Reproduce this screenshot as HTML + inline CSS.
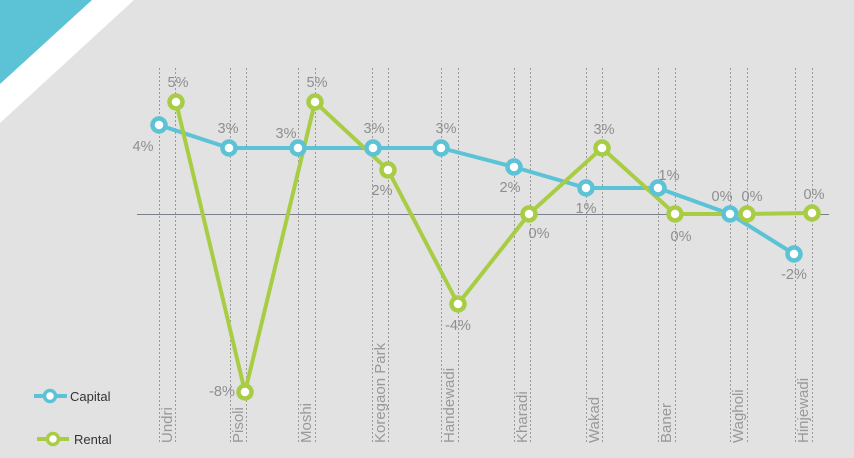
<!DOCTYPE html>
<html><head><style>
html,body{margin:0;padding:0;background:#e1e2e1;}
svg{display:block;font-family:"Liberation Sans",sans-serif;}
</style></head><body>
<svg width="854" height="458" viewBox="0 0 854 458">
<rect width="854" height="458" fill="#e1e2e1"/>
<polygon points="0,0 134,0 0,123" fill="#ffffff"/>
<polygon points="0,0 92,0 0,84" fill="#5bc3d5"/>
<g stroke="#9a9a9a" stroke-width="1" stroke-dasharray="2,2">
<line x1="159.5" y1="68" x2="159.5" y2="443"/><line x1="175.5" y1="68" x2="175.5" y2="443"/>
<line x1="230.5" y1="68" x2="230.5" y2="443"/><line x1="246.5" y1="68" x2="246.5" y2="443"/>
<line x1="298.5" y1="68" x2="298.5" y2="443"/><line x1="315.5" y1="68" x2="315.5" y2="443"/>
<line x1="372.5" y1="68" x2="372.5" y2="443"/><line x1="388.5" y1="68" x2="388.5" y2="443"/>
<line x1="441.5" y1="68" x2="441.5" y2="443"/><line x1="458.5" y1="68" x2="458.5" y2="443"/>
<line x1="514.5" y1="68" x2="514.5" y2="443"/><line x1="530.5" y1="68" x2="530.5" y2="443"/>
<line x1="586.5" y1="68" x2="586.5" y2="443"/><line x1="602.5" y1="68" x2="602.5" y2="443"/>
<line x1="658.5" y1="68" x2="658.5" y2="443"/><line x1="675.5" y1="68" x2="675.5" y2="443"/>
<line x1="730.5" y1="68" x2="730.5" y2="443"/><line x1="747.5" y1="68" x2="747.5" y2="443"/>
<line x1="795.5" y1="68" x2="795.5" y2="443"/><line x1="812.5" y1="68" x2="812.5" y2="443"/>
</g>
<line x1="137" y1="214.5" x2="829" y2="214.5" stroke="#7a7f8e" stroke-width="1"/>
<g fill="#999" font-size="15">
<text transform="translate(172,443) rotate(-90)">Undri</text>
<text transform="translate(243,443) rotate(-90)">Pisoli</text>
<text transform="translate(311,443) rotate(-90)">Moshi</text>
<text transform="translate(385,443) rotate(-90)">Koregaon Park</text>
<text transform="translate(454,443) rotate(-90)">Handewadi</text>
<text transform="translate(527,443) rotate(-90)">Kharadi</text>
<text transform="translate(599,443) rotate(-90)">Wakad</text>
<text transform="translate(671,443) rotate(-90)">Baner</text>
<text transform="translate(743,443) rotate(-90)">Wagholi</text>
<text transform="translate(808,443) rotate(-90)">Hinjewadi</text>
</g>
<polyline fill="none" stroke="#5bc3d5" stroke-width="4" stroke-linejoin="round" points="159,125 229,148 298,148 373,148 441,148 514,167 586,188 658,188 730,214 794,254"/>
<polyline fill="none" stroke="#a8cd45" stroke-width="4" stroke-linejoin="round" points="176,102 245,392 315,102 388,170 458,304 529,214 602,148 675,214 747,214 812,213"/>
<g fill="#fff" stroke="#5bc3d5" stroke-width="4.5">
<circle cx="159" cy="125" r="6.5"/><circle cx="229" cy="148" r="6.5"/><circle cx="298" cy="148" r="6.5"/><circle cx="373" cy="148" r="6.5"/><circle cx="441" cy="148" r="6.5"/><circle cx="514" cy="167" r="6.5"/><circle cx="586" cy="188" r="6.5"/><circle cx="658" cy="188" r="6.5"/><circle cx="730" cy="214" r="6.5"/><circle cx="794" cy="254" r="6.5"/>
</g>
<g fill="#fff" stroke="#a8cd45" stroke-width="4.5">
<circle cx="176" cy="102" r="6.5"/><circle cx="245" cy="392" r="6.5"/><circle cx="315" cy="102" r="6.5"/><circle cx="388" cy="170" r="6.5"/><circle cx="458" cy="304" r="6.5"/><circle cx="529" cy="214" r="6.5"/><circle cx="602" cy="148" r="6.5"/><circle cx="675" cy="214" r="6.5"/><circle cx="747" cy="214" r="6.5"/><circle cx="812" cy="213" r="6.5"/>
</g>
<g fill="#8e8e8e" font-size="14.5" text-anchor="middle">
<text x="143" y="151">4%</text>
<text x="228" y="133">3%</text>
<text x="286" y="138">3%</text>
<text x="374" y="133">3%</text>
<text x="446" y="133">3%</text>
<text x="510" y="192">2%</text>
<text x="586" y="213">1%</text>
<text x="669" y="180">1%</text>
<text x="722" y="201">0%</text>
<text x="794" y="279">-2%</text>
<text x="178" y="87">5%</text>
<text x="222" y="396">-8%</text>
<text x="317" y="87">5%</text>
<text x="382" y="195">2%</text>
<text x="458" y="330">-4%</text>
<text x="539" y="238">0%</text>
<text x="604" y="134">3%</text>
<text x="681" y="241">0%</text>
<text x="752" y="201">0%</text>
<text x="814" y="199">0%</text>
</g>
<line x1="34" y1="396" x2="67" y2="396" stroke="#5bc3d5" stroke-width="4"/>
<circle cx="50" cy="396" r="5.5" fill="#fff" stroke="#5bc3d5" stroke-width="3.5"/>
<text x="70" y="401" font-size="13" fill="#333">Capital</text>
<line x1="37" y1="439" x2="69" y2="439" stroke="#a8cd45" stroke-width="4"/>
<circle cx="53" cy="439" r="5.5" fill="#fff" stroke="#a8cd45" stroke-width="3.5"/>
<text x="74" y="444" font-size="13" fill="#333">Rental</text>
</svg>
</body></html>
